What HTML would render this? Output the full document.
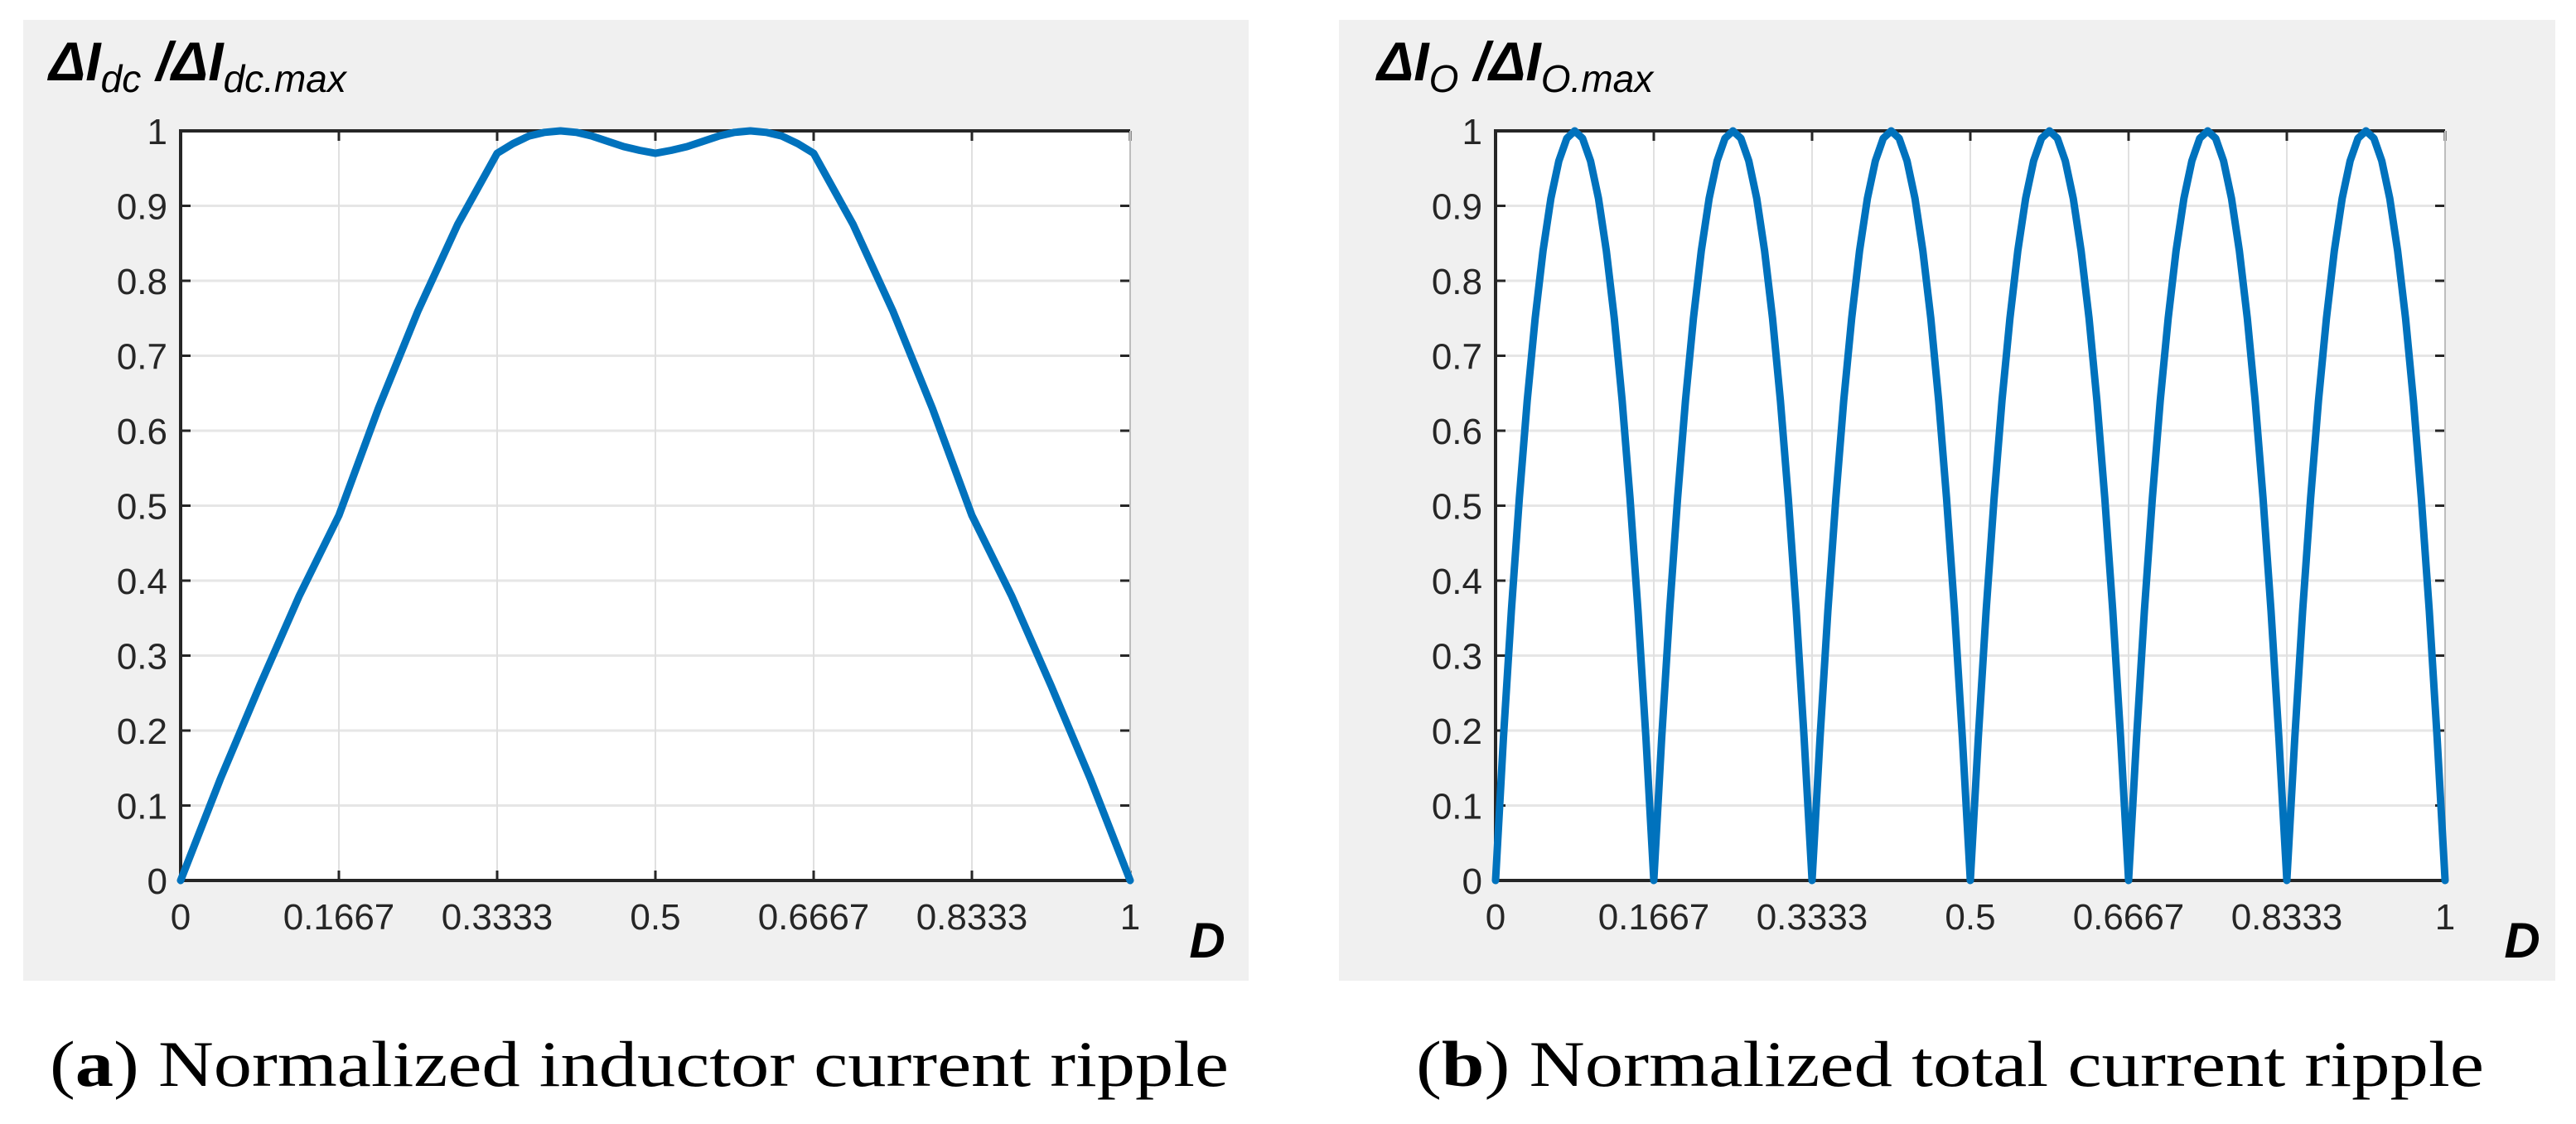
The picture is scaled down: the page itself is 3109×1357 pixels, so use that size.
<!DOCTYPE html>
<html><head><meta charset="utf-8"><style>
html,body{margin:0;padding:0;background:#fff}
svg{display:block}
.sans{font-family:"Liberation Sans",sans-serif}
.serif{font-family:"Liberation Serif",serif}
</style></head><body>
<svg id="fig" width="3109" height="1357" viewBox="0 0 3109 1357" xmlns="http://www.w3.org/2000/svg">
<rect x="28" y="24" width="1479" height="1160" fill="#f0f0f0"/>
<rect x="1616" y="24" width="1468" height="1160" fill="#f0f0f0"/>
<g id="pa" class="sans"></g>
<g id="pb" class="sans"></g>
<text class="serif" x="60" y="1311" font-size="78" textLength="1423" lengthAdjust="spacingAndGlyphs">(<tspan font-weight="bold">a</tspan>) Normalized inductor current ripple</text>
<text class="serif" x="1709" y="1311" font-size="78" textLength="1289" lengthAdjust="spacingAndGlyphs">(<tspan font-weight="bold">b</tspan>) Normalized total current ripple</text>
</svg>
<script>
const xTicks = [0, 1/6, 2/6, 3/6, 4/6, 5/6, 1];
const xTickLabels = ["0","0.1667","0.3333","0.5","0.6667","0.8333","1"];
const yTicks = [0,0.1,0.2,0.3,0.4,0.5,0.6,0.7,0.8,0.9,1];
const yTickLabels = ["0","0.1","0.2","0.3","0.4","0.5","0.6","0.7","0.8","0.9","1"];
const aX = [0,0.0417,0.0833,0.125,0.1667,0.2083,0.25,0.2917,0.3333,0.35,0.3667,0.3833,0.4,0.4167,0.4333,0.45,0.4667,0.4833,0.5,0.5167,0.5333,0.55,0.5667,0.5833,0.6,0.6167,0.6333,0.65,0.6667,0.7083,0.75,0.7917,0.8333,0.875,0.9167,0.9583,1];
const aY = [0,0.135,0.26,0.38,0.487,0.63,0.76,0.875,0.97,0.983,0.993,0.998,1.0,0.998,0.993,0.986,0.979,0.974,0.97,0.974,0.979,0.986,0.993,0.998,1.0,0.998,0.993,0.983,0.97,0.875,0.76,0.63,0.487,0.38,0.26,0.135,0];
const bX = [];
for (let i=0;i<=120;i++) bX.push(i/120);
const bY = [0,0.19,0.36,0.51,0.64,0.75,0.84,0.91,0.96,0.99,1,0.99,0.96,0.91,0.84,0.75,0.64,0.51,0.36,0.19,
0,0.19,0.36,0.51,0.64,0.75,0.84,0.91,0.96,0.99,1,0.99,0.96,0.91,0.84,0.75,0.64,0.51,0.36,0.19,
0,0.19,0.36,0.51,0.64,0.75,0.84,0.91,0.96,0.99,1,0.99,0.96,0.91,0.84,0.75,0.64,0.51,0.36,0.19,
0,0.19,0.36,0.51,0.64,0.75,0.84,0.91,0.96,0.99,1,0.99,0.96,0.91,0.84,0.75,0.64,0.51,0.36,0.19,
0,0.19,0.36,0.51,0.64,0.75,0.84,0.91,0.96,0.99,1,0.99,0.96,0.91,0.84,0.75,0.64,0.51,0.36,0.19,
0,0.19,0.36,0.51,0.64,0.75,0.84,0.91,0.96,0.99,1,0.99,0.96,0.91,0.84,0.75,0.64,0.51,0.36,0.19,0];
const NS="http://www.w3.org/2000/svg";
function mk(parent, tag, attrs){const e=document.createElementNS(NS,tag);for(const k in attrs)e.setAttribute(k,attrs[k]);parent.appendChild(e);return e;}
function draw(g, L, R, xs, ys, titleMain, titleSub1, titleSub2, titleX){
  const T=158, B=1063;
  const sx=v=>L+(R-L)*v, sy=v=>B-(B-T)*v;
  const bg=mk(g,'rect',{x:L,y:T,width:R-L,height:B-T,fill:'#fff'});
  
  
  yTicks.forEach((v,i)=>{
    const l=mk(g,'line',{x1:L,x2:R,y1:sy(v),y2:sy(v),stroke:'#e6e6e6','stroke-width':3});
    
    
    const t=mk(g,'text',{x:L-16,y:sy(v)+16,'font-size':44,fill:'#262626','text-anchor':'end'});
    t.textContent=yTickLabels[i];
    
    
    mk(g,'line',{x1:L,x2:L+12,y1:sy(v),y2:sy(v),stroke:'#262626','stroke-width':3});
    mk(g,'line',{x1:R,x2:R-12,y1:sy(v),y2:sy(v),stroke:'#262626','stroke-width':3});
  });
  xTicks.forEach((v,i)=>{
    const l=mk(g,'line',{x1:sx(v),x2:sx(v),y1:T,y2:B,stroke:'#e0e0e0','stroke-width':2});
    
    
    const t=mk(g,'text',{x:sx(v),y:1122,'font-size':44,fill:'#262626','text-anchor':'middle'});
    t.textContent=xTickLabels[i];
    
    
    mk(g,'line',{x1:sx(v),x2:sx(v),y1:B,y2:B-12,stroke:'#262626','stroke-width':3});
    mk(g,'line',{x1:sx(v),x2:sx(v),y1:T,y2:T+12,stroke:'#262626','stroke-width':3});
  });
  const box=mk(g,'path',{d:`M${R},${T} L${L},${T} L${L},${B} L${R},${B}`,fill:'none',stroke:'#262626','stroke-width':4});
  
  
  mk(g,'line',{x1:R,x2:R,y1:T,y2:B,stroke:'#bdbdbd','stroke-width':2});
  const pts=xs.map((x,i)=>sx(x).toFixed(1)+','+sy(ys[i]).toFixed(1)).join(' ');
  const pl=mk(g,'polyline',{points:pts,fill:'none',stroke:'#0072bd','stroke-width':9,'stroke-linejoin':'round','stroke-linecap':'round'});
  
  
  const tt=mk(g,'text',{x:titleX,y:97,'font-size':66,'font-weight':'bold','font-style':'italic',fill:'#000'});
  
  
  tt.innerHTML=`${titleMain}<tspan font-size="46" font-weight="normal" dy="14">${titleSub1}</tspan><tspan dy="-14"> /${titleMain}</tspan><tspan font-size="46" font-weight="normal" dy="14">${titleSub2}</tspan>`;
  const d=mk(g,'text',{x:R+93,y:1156,'font-size':60,'font-weight':'bold','font-style':'italic',fill:'#000','text-anchor':'middle'});
  d.textContent='D';
  
  
}
draw(document.getElementById('pa'),218,1364,aX,aY,'ΔI','dc','dc.max',59);
draw(document.getElementById('pb'),1805,2951,bX,bY,'ΔI','O','O.max',1662);
</script>
</body></html>
